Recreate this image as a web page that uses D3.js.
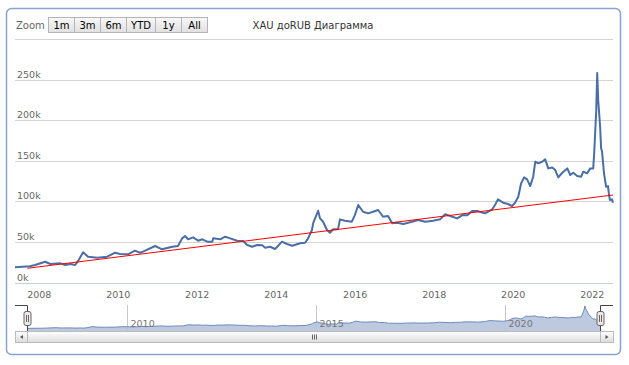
<!DOCTYPE html>
<html><head><meta charset="utf-8">
<script src="https://cdn.jsdelivr.net/npm/d3@7"></script>
<style>
html,body{margin:0;padding:0;background:#fff;}
svg{display:block;font-family:"DejaVu Sans",Verdana,sans-serif;}
</style></head><body>
<svg id="c" width="629" height="365"></svg>
<script>
const titleText = "XAU доRUB Диаграмма";
const zoomButtons = ["1m","3m","6m","YTD","1y","All"];
const dates = ["2007-05-22","2007-10-08","2007-11-24","2008-02-25","2008-04-13","2008-07-14","2008-08-29","2008-10-13","2008-11-29","2008-12-27",
"2009-02-10","2009-03-28","2009-06-20","2009-09-20","2009-12-03","2010-01-18","2010-04-01","2010-06-04","2010-07-22","2010-08-18",
"2010-12-08","2011-02-10","2011-05-15","2011-07-08","2011-08-14","2011-09-12","2011-10-09","2011-11-24","2012-01-10","2012-02-17",
"2012-04-03","2012-05-19","2012-05-28","2012-08-01","2012-09-16","2012-11-01","2013-01-05","2013-02-28","2013-04-08","2013-05-23",
"2013-07-08","2013-08-24","2013-09-21","2013-11-05","2013-12-21","2014-02-23","2014-04-10","2014-05-29","2014-08-10","2014-09-25",
"2014-10-22","2014-11-27","2014-12-08","2014-12-26","2015-01-23","2015-02-10","2015-03-10","2015-04-15","2015-05-13","2015-06-09",
"2015-07-26","2015-08-13","2015-09-27","2015-12-01","2015-12-29","2016-01-29","2016-03-14","2016-04-29","2016-06-15","2016-07-31",
"2016-09-15","2016-10-31","2016-12-09","2017-01-23","2017-03-21","2017-06-10","2017-08-04","2017-10-09","2017-12-21","2018-02-24",
"2018-04-12","2018-06-17","2018-08-02","2018-09-17","2018-11-02","2018-12-18","2019-02-02","2019-04-16","2019-06-20","2019-07-17",
"2019-08-13","2019-09-30","2019-11-14","2019-12-21","2020-01-18","2020-02-17","2020-03-14","2020-04-11","2020-05-09","2020-06-06",
"2020-07-04","2020-07-23","2020-08-20","2020-09-25","2020-10-23","2020-11-20","2020-12-27","2021-01-24","2021-02-21","2021-03-30",
"2021-05-15","2021-06-12","2021-07-09","2021-08-15","2021-09-21","2021-10-10","2021-11-16","2021-12-13","2022-01-10","2022-01-19",
"2022-02-07","2022-02-16","2022-02-25","2022-03-15","2022-03-24","2022-04-02","2022-04-20","2022-05-09","2022-05-27","2022-06-05",
"2022-06-14","2022-07-03","2022-07-12"];
const values = [18700,20000,21500,25600,22800,23600,21500,22800,21500,26900,
37200,31800,30600,31800,36700,35100,34700,39200,36700,38000,
45000,40900,44000,45000,54400,57300,53200,55600,51500,53200,
50300,50300,54400,53200,56400,54400,51500,51000,46200,44000,
46200,46000,42900,44000,41300,50300,47400,45300,48300,49000,
54400,64700,72900,79000,88400,79000,74900,64700,61300,65500,
65500,77800,76100,74900,83100,95400,87200,85200,87200,89300,
81000,81900,72900,73600,72000,74900,77000,74900,76000,77800,
84000,81000,79000,83100,83000,88000,88000,85200,90000,95500,
102400,98300,96700,94200,98300,105700,122000,129500,127000,118800,
130300,148800,146800,148800,151700,140600,141800,138500,129500,135200,
140600,132400,135200,131200,130300,136500,134500,140600,140600,159000,
212000,258000,224800,191900,165300,161000,134500,118000,118800,107800,
101600,102400,98300];
const trendDates = ["2007-09-12","2022-07-12"];
const trendValues = [17500,107800];
const yTicks = [0,50000,100000,150000,200000,250000,300000];
const yTickLabels = ["0k","50k","100k","150k","200k","250k",""];
const xTickYears = [2008,2010,2012,2014,2016,2018,2020,2022];
const navTickYears = [2010,2015,2020];

const parse = d3.timeParse("%Y-%m-%d");
const series = dates.map((d,i)=>({t:parse(d), v:values[i]}));
const trend = trendDates.map((d,i)=>({t:parse(d), v:trendValues[i]}));

const svg = d3.select("#c");
const plot = {l:15, r:613, t:39, b:282.5};
const nav = {l:27, r:600, t:305, b:331.5};

const defs = svg.append("defs");
const bg = defs.append("linearGradient").attr("id","btnGrad").attr("x1",0).attr("x2",0).attr("y1",0).attr("y2",1);
bg.append("stop").attr("offset","0").attr("stop-color","#f8f8f8");
bg.append("stop").attr("offset","1").attr("stop-color","#e0e0e0");
const sg = defs.append("linearGradient").attr("id","sbGrad").attr("x1",0).attr("x2",0).attr("y1",0).attr("y2",1);
sg.append("stop").attr("offset","0").attr("stop-color","#ffffff");
sg.append("stop").attr("offset","1").attr("stop-color","#dcdcdc");

// frame
svg.append("rect").attr("x",6.5).attr("y",8.5).attr("width",614).attr("height",346)
  .attr("rx",5).attr("fill","#fff").attr("stroke","#8aa2cf").attr("stroke-width",1.5);

const x = d3.scaleTime().domain(d3.extent(series,d=>d.t)).range([plot.l,plot.r]);
const y = d3.scaleLinear().domain([0,300000]).range([plot.b,plot.t]);

// grid
const gy = svg.append("g");
yTicks.forEach((t,i)=>{
  gy.append("line").attr("x1",plot.l).attr("x2",plot.r)
    .attr("y1",Math.round(y(t))+0.5).attr("y2",Math.round(y(t))+0.5)
    .attr("stroke", t===0? "#c0d0e0":"#d4d4d4").attr("stroke-width",1);
  if(yTickLabels[i]) gy.append("text").attr("x",17).attr("y",Math.round(y(t))-2.5)
    .attr("font-size",9.5).attr("fill","#666").text(yTickLabels[i]);
});

// x axis labels
const gx = svg.append("g");
xTickYears.forEach(yr=>{
  gx.append("text").attr("x",x(new Date(yr,0,1))).attr("y",298)
    .attr("text-anchor","middle").attr("font-size",9.5).attr("fill","#666").text(String(yr));
});

// series
const line = d3.line().x(d=>x(d.t)).y(d=>y(d.v));
svg.append("path").datum(series).attr("d",line).attr("fill","none")
  .attr("stroke","#4a6ea6").attr("stroke-width",2).attr("stroke-linejoin","round");
svg.append("path").datum(trend).attr("d",line).attr("fill","none")
  .attr("stroke","#ff0000").attr("stroke-width",1);

// title & zoom
svg.append("text").attr("x",313).attr("y",29).attr("text-anchor","middle")
  .attr("font-size",10).attr("fill","#333").text(titleText);
svg.append("text").attr("x",16).attr("y",29).attr("font-size",10).attr("fill","#666").text("Zoom");
let bx = 48;
zoomButtons.forEach(b=>{
  const g = svg.append("g");
  const t = g.append("text").attr("y",29).attr("font-size",10).attr("fill","#000").text(b);
  const tw = t.node().getComputedTextLength();
  const w = Math.max(26, Math.round(tw+9));
  g.insert("rect","text").attr("x",bx+0.5).attr("y",17.5).attr("width",w).attr("height",15)
    .attr("fill","url(#btnGrad)").attr("stroke","#b5b5b5");
  t.attr("x",bx+0.5+w/2).attr("text-anchor","middle");
  bx += w;
});

// navigator
const nx = d3.scaleTime().domain(d3.extent(series,d=>d.t)).range([nav.l,nav.r]);
const ny = d3.scaleLinear().domain([-15000,268000]).range([nav.b,nav.t]);
navTickYears.forEach(yr=>{
  const xx = Math.round(nx(new Date(yr,0,1)))+1.5;
  svg.append("line").attr("x1",xx).attr("x2",xx).attr("y1",nav.t).attr("y2",nav.b).attr("stroke","#c8c8c8");
});
const area = d3.area().x(d=>nx(d.t)).y0(nav.b).y1(d=>ny(d.v));
svg.append("path").datum(series).attr("d",area).attr("fill","#b6c3da").attr("fill-opacity",0.9);
svg.append("path").datum(series).attr("d",d3.line().x(d=>nx(d.t)).y(d=>ny(d.v)))
  .attr("fill","none").attr("stroke","#6f8bbb").attr("stroke-width",1);
navTickYears.forEach(yr=>{
  const xx = Math.round(nx(new Date(yr,0,1)))+1.5;
  svg.append("text").attr("x",xx+3).attr("y",327).attr("font-size",9.5).attr("fill","#777").text(String(yr));
});
// outline
svg.append("path").attr("d",`M${plot.l},${nav.t+0.5}H${nav.l+0.5}V${nav.b}M${nav.r+0.5},${nav.b}V${nav.t+0.5}H${plot.r}`)
  .attr("fill","none").attr("stroke","#444").attr("stroke-width",1);
// handles
[nav.l, nav.r].forEach(hx=>{
  const g = svg.append("g");
  g.append("rect").attr("x",hx-3).attr("y",311.5).attr("width",7).attr("height",14).attr("rx",2)
    .attr("fill","#ebe7e8").attr("stroke","#666");
  [hx-0.5,hx+1.5].forEach(lx=> g.append("line").attr("x1",lx).attr("x2",lx).attr("y1",315).attr("y2",322).attr("stroke","#666"));
});

// scrollbar
const sb = {t:331.5, h:11};
svg.append("rect").attr("x",plot.l+0.5).attr("y",sb.t).attr("width",plot.r-plot.l).attr("height",sb.h)
  .attr("fill","#eeeeee").attr("stroke","#bbb");
svg.append("rect").attr("x",nav.l+0.5).attr("y",sb.t).attr("width",nav.r-nav.l).attr("height",sb.h)
  .attr("fill","url(#sbGrad)").attr("stroke","#bbb");
[[plot.l,nav.l],[nav.r,plot.r]].forEach(([a,b],i)=>{
  svg.append("rect").attr("x",a+0.5).attr("y",sb.t).attr("width",b-a).attr("height",sb.h)
    .attr("fill","url(#sbGrad)").attr("stroke","#bbb");
  const cx=(a+b)/2+0.5, cy=sb.t+sb.h/2;
  const p = i===0 ? `M${cx+1.5},${cy-2}L${cx-1.5},${cy}L${cx+1.5},${cy+2}Z` : `M${cx-1.5},${cy-2}L${cx+1.5},${cy}L${cx-1.5},${cy+2}Z`;
  svg.append("path").attr("d",p).attr("fill","#555");
});
const mid = Math.round((nav.l+nav.r)/2)+0.5;
[-2,0,2].forEach(o=> svg.append("line").attr("x1",mid+o).attr("x2",mid+o).attr("y1",sb.t+3).attr("y2",sb.t+sb.h-3).attr("stroke","#666"));
</script></body></html>
